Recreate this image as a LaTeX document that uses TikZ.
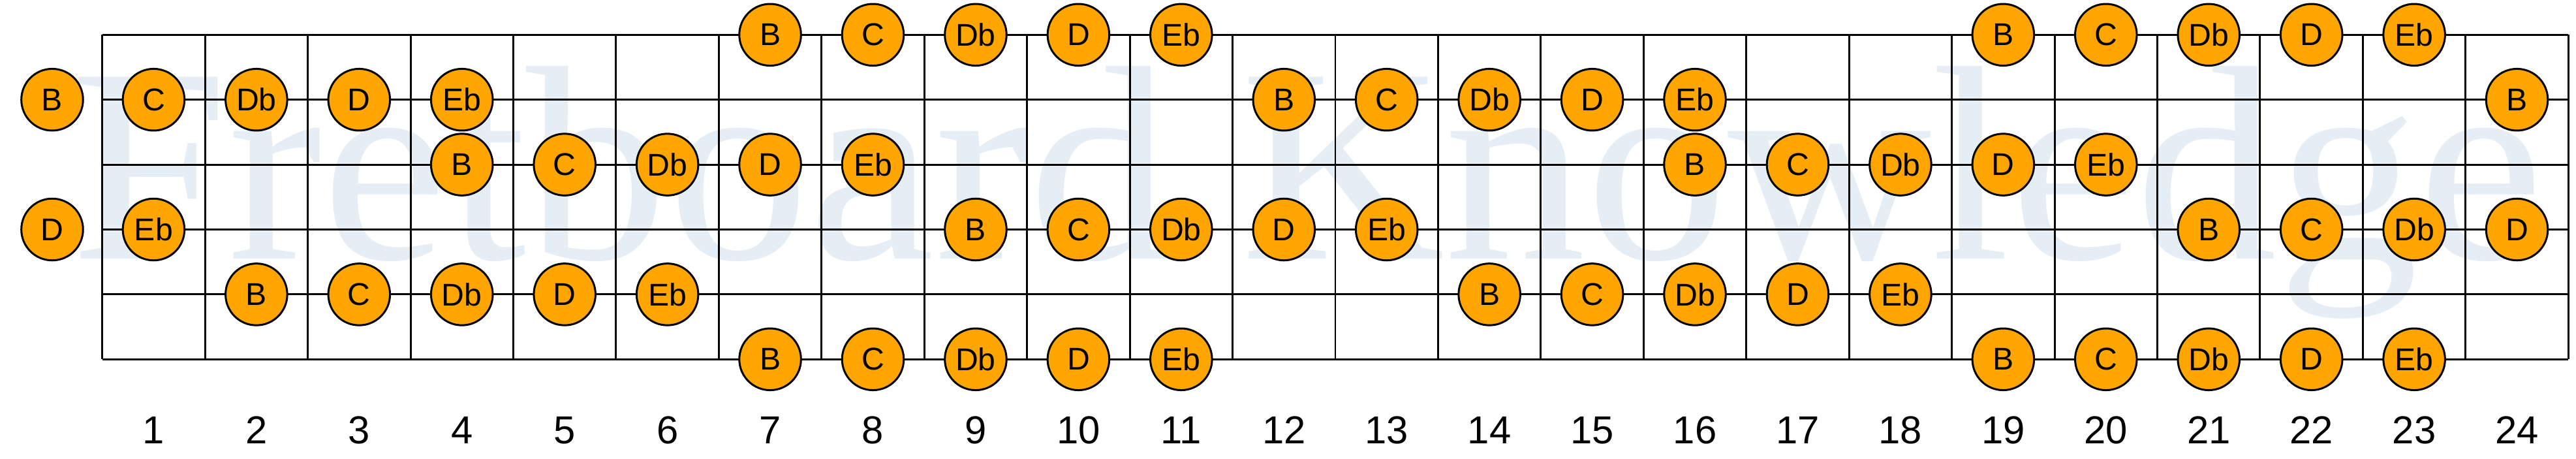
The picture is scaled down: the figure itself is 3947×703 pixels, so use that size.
\documentclass[tikz,border=0pt]{standalone}
\usepackage{fontspec}
\setmainfont{Liberation Sans}
\newfontfamily\wmserif{Liberation Serif}
\definecolor{noteorange}{RGB}{255,165,0}
\definecolor{wmblue}{RGB}{229,238,245}
\begin{document}
\begin{tikzpicture}[x=0.01cm,y=-0.01cm,
  gridline/.style={line width=0.85pt, draw=black},
  notedot/.style={circle, draw=black, line width=0.85pt, fill=noteorange,
    minimum size=0.945cm, inner sep=0pt, font=\fontsize{13.7}{13.7}\selectfont},
  fretnum/.style={anchor=base, inner sep=0pt, font=\fontsize{17}{17}\selectfont},
  watermark/.style={anchor=base west, inner sep=0pt, text=wmblue,
    font=\wmserif\fontsize{121}{121}\selectfont}]
\useasboundingbox (0,0) rectangle (3947,703);
\fill[white] (0,0) rectangle (3947,703);
% watermark
\node[watermark] (wm) at (108,396) {\scalebox{1.018}[1]{Fretboard Knowledge}};
% frets
\foreach \k in {0,...,24}
  \draw[gridline] ({156.7+157.44*\k},53.3) -- ({156.7+157.44*\k},550.3);
% strings
\foreach \s in {0,...,5}
  \draw[gridline] (156.7,{53.3+99.4*\s}) -- (3935.3,{53.3+99.4*\s});
% notes
\foreach \s/\f/\n in {
  1/7/B,1/8/C,1/9/Db,1/10/D,1/11/Eb,1/19/B,1/20/C,1/21/Db,1/22/D,1/23/Eb,
  2/0/B,2/1/C,2/2/Db,2/3/D,2/4/Eb,2/12/B,2/13/C,2/14/Db,2/15/D,2/16/Eb,2/24/B,
  3/4/B,3/5/C,3/6/Db,3/7/D,3/8/Eb,3/16/B,3/17/C,3/18/Db,3/19/D,3/20/Eb,
  4/0/D,4/1/Eb,4/9/B,4/10/C,4/11/Db,4/12/D,4/13/Eb,4/21/B,4/22/C,4/23/Db,4/24/D,
  5/2/B,5/3/C,5/4/Db,5/5/D,5/6/Eb,5/14/B,5/15/C,5/16/Db,5/17/D,5/18/Eb,
  6/7/B,6/8/C,6/9/Db,6/10/D,6/11/Eb,6/19/B,6/20/C,6/21/Db,6/22/D,6/23/Eb}
  \node[notedot] (n\s-\f) at ({156.7+157.44*(\f-0.5)+(\f==0)*2},{53.3+99.4*(\s-1)}) {\n};
% fret numbers
\foreach \f in {1,...,24}
  \node[fretnum] (fn\f) at ({156.7+157.44*(\f-0.5)},679) {\f};
\end{tikzpicture}
\end{document}
